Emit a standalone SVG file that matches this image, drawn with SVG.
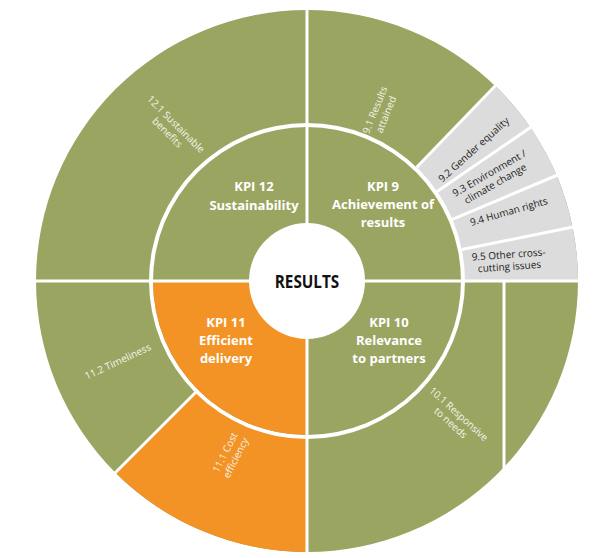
<svg xmlns="http://www.w3.org/2000/svg" width="608" height="558" viewBox="0 0 608 558">
<style>
.g{fill:#9ba562}.o{fill:#f39325}.y{fill:#dcdcdc}
.ln{stroke:#fff;stroke-width:3;fill:none}
.kpi{font-family:"Open Sans","Noto Sans",sans-serif;font-weight:bold;font-size:13px;fill:#fff;text-anchor:middle}
.sub{font-family:"Open Sans","Noto Sans",sans-serif;font-size:10px;fill:#f4f4ea;text-anchor:middle}
.sd{font-family:"Open Sans","Noto Sans",sans-serif;font-size:10px;fill:#222;text-anchor:middle}
</style>
<rect width="608" height="558" fill="#fff"/>
<g id="outer-ring">
<circle cx="307" cy="281" r="271" class="g"/>
<path class="y" d="M307,281 L495.3,86.1 A271 271 0 0 1 578,281 Z"/>
<path class="o" d="M307,281 L115.4,472.6 A271 271 0 0 0 307,552 Z"/>
<circle cx="307" cy="281" r="158" fill="#fff"/>
</g>
<g id="inner-ring">
<circle cx="307" cy="281" r="154" class="g"/>
<path class="o" d="M307,281 L307,435 A154 154 0 0 1 153,281 Z"/>
</g>
<g id="connectors">
<line class="ln" x1="307" y1="5" x2="307" y2="556"/>
<line class="ln" x1="30" y1="281" x2="582" y2="281"/>
<line class="ln" x1="198" y1="390" x2="113" y2="475"/>
<line class="ln" x1="416.7" y1="167.3" x2="497" y2="84"/>
<line class="ln" x1="437" y1="191.5" x2="534" y2="125"/>
<line class="ln" x1="452.4" y1="219.3" x2="560" y2="174"/>
<line class="ln" x1="461.8" y1="249.5" x2="578" y2="226"/>
<line class="ln" x1="504" y1="281" x2="504" y2="470"/>
</g>
<g id="center">
<circle cx="307" cy="281" r="58" fill="#fff"/>
<text x="307" y="288" font-family="'Open Sans','Noto Sans',sans-serif" font-weight="bold" font-size="18" text-anchor="middle" fill="#111" transform="translate(307,288) scale(0.85,1) translate(-307,-288)">RESULTS</text>
</g>
<g id="kpi12"><text class="kpi" x="254" y="191">KPI 12</text><text class="kpi" x="254" y="210">Sustainability</text></g>
<g id="kpi9"><text class="kpi" x="383" y="191">KPI 9</text><text class="kpi" x="383" y="209">Achievement of</text><text class="kpi" x="383" y="227">results</text></g>
<g id="kpi11"><text class="kpi" x="226" y="327">KPI 11</text><text class="kpi" x="226" y="345">Efficient</text><text class="kpi" x="226" y="363">delivery</text></g>
<g id="kpi10"><text class="kpi" x="389" y="327">KPI 10</text><text class="kpi" x="389" y="345">Relevance</text><text class="kpi" x="389" y="363">to partners</text></g>
<g id="l121" transform="translate(172,128) rotate(45)"><text class="sub" y="-2">12.1 Sustainable</text><text class="sub" y="10">benefits</text></g>
<g id="l91" transform="translate(380,112) rotate(-68)"><text class="sub" y="-2">9.1 Results</text><text class="sub" y="10">attained</text></g>
<g id="l92" transform="translate(474,150) rotate(-42)"><text class="sd" y="3">9.2 Gender equality</text></g>
<g id="l93" transform="translate(492,178) rotate(-30)"><text class="sd" y="-2">9.3 Environment /</text><text class="sd" y="10">climate change</text></g>
<g id="l94" transform="translate(509,212) rotate(-16)"><text class="sd" y="3">9.4 Human rights</text></g>
<g id="l95" transform="translate(509,260) rotate(-4)"><text class="sd" y="-2">9.5 Other cross-</text><text class="sd" y="10">cutting issues</text></g>
<g id="l112" transform="translate(118,362) rotate(-25)"><text class="sub" y="3">11.2 Timeliness</text></g>
<g id="l111" transform="translate(230,455) rotate(-63)"><text class="sub" y="-2">11.1 Cost</text><text class="sub" y="10">efficiency</text></g>
<g id="l101" transform="translate(455,418) rotate(42)"><text class="sub" y="-2">10.1 Responsive</text><text class="sub" y="10">to needs</text></g>
</svg>
